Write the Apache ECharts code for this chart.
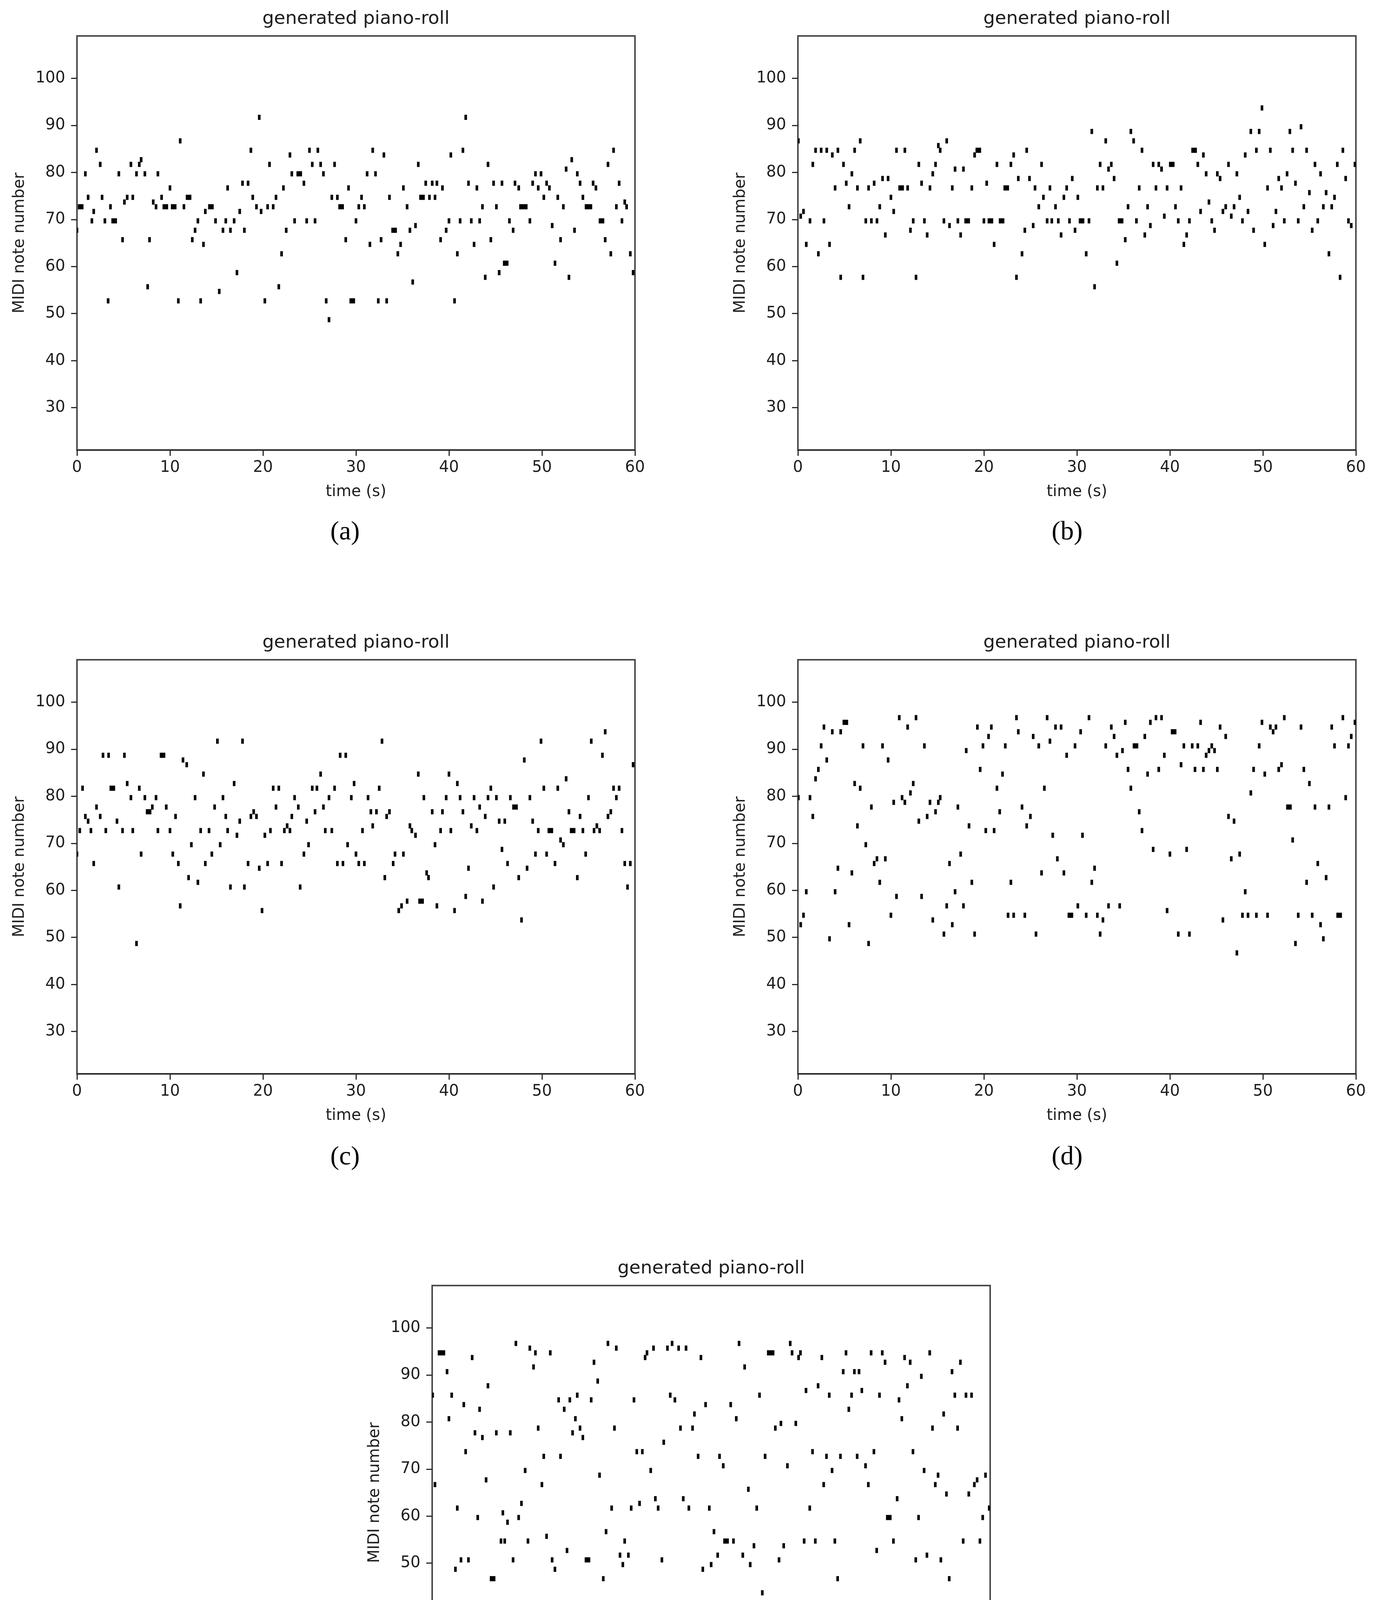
<!DOCTYPE html>
<html>
<head>
<meta charset="utf-8">
<script src="https://cdn.jsdelivr.net/npm/echarts@6/dist/echarts.min.js"></script>
<style>html,body{margin:0;padding:0;background:#fff;overflow:hidden}#c{width:3524px;height:4621px}</style>
</head>
<body>
<div id="c"></div>
<script>
// note data: [time (s), MIDI pitch, duration (s)]
var notesA = [[0,68,.28],[0.4,73,.6],[0.9,80,.28],[1.2,75,.28],[1.6,70,.28],[1.8,72,.28],[2.1,85,.28],[2.5,82,.28],[2.7,75,.28],[3.0,70,.28],[3.35,53,.28],[3.6,73,.28],[4.0,70,.6],[4.5,80,.28],[4.9,66,.28],[5.1,74,.28],[5.4,75,.28],[5.8,82,.28],[6.0,75,.28],[6.4,80,.28],[6.7,82,.28],[6.9,83,.28],[7.3,80,.28],[7.6,56,.28],[7.8,66,.28],[8.2,74,.28],[8.5,73,.28],[8.7,80,.28],[9.1,75,.28],[9.5,73,.6],[10.0,77,.28],[10.4,73,.6],[10.9,53,.28],[11.1,87,.28],[11.5,73,.28],[12.0,75,.6],[12.4,66,.28],[12.7,68,.28],[13.0,70,.28],[13.3,53,.28],[13.6,65,.28],[13.8,72,.28],[14.4,73,.6],[14.9,70,.28],[15.3,55,.28],[15.7,68,.28],[16.0,70,.28],[16.2,77,.28],[16.5,68,.28],[16.9,70,.28],[17.2,59,.28],[17.5,72,.28],[17.8,78,.28],[18.0,68,.28],[18.4,78,.28],[18.7,85,.28],[18.9,75,.28],[19.3,73,.28],[19.6,92,.28],[19.8,72,.28],[20.2,53,.28],[20.5,73,.28],[20.7,82,.28],[21.1,73,.28],[21.4,75,.28],[21.7,56,.28],[22.0,63,.28],[22.2,77,.28],[22.5,68,.28],[22.9,84,.28],[23.1,80,.28],[23.4,70,.28],[23.9,80,.6],[24.4,78,.28],[24.7,70,.28],[25.0,85,.28],[25.3,82,.28],[25.6,70,.28],[25.9,85,.28],[26.2,82,.28],[26.5,80,.28],[26.8,53,.28],[27.1,49,.28],[27.4,75,.28],[27.7,82,.28],[28.0,75,.28],[28.4,73,.6],[28.9,66,.28],[29.2,77,.28],[29.6,53,.6],[30.0,70,.28],[30.3,73,.28],[30.6,75,.28],[30.9,73,.28],[31.2,80,.28],[31.5,65,.28],[31.8,85,.28],[32.1,80,.28],[32.4,53,.28],[32.7,66,.28],[33.0,84,.28],[33.3,53,.28],[33.6,75,.28],[34.1,68,.6],[34.5,63,.28],[34.8,65,.28],[35.1,77,.28],[35.5,73,.28],[35.8,68,.28],[36.1,57,.28],[36.4,69,.28],[36.7,82,.28],[37.1,75,.6],[37.5,78,.28],[37.9,75,.28],[38.2,78,.28],[38.5,75,.28],[38.7,78,.28],[39.1,66,.28],[39.3,77,.28],[39.7,68,.28],[40.0,70,.28],[40.2,84,.28],[40.6,53,.28],[40.9,63,.28],[41.2,70,.28],[41.5,85,.28],[41.8,92,.28],[42.1,78,.28],[42.4,70,.28],[42.7,65,.28],[43.0,77,.28],[43.3,70,.28],[43.6,73,.28],[43.9,58,.28],[44.2,82,.28],[44.5,66,.28],[44.8,78,.28],[45.1,73,.28],[45.4,59,.28],[45.7,78,.28],[46.1,61,.6],[46.5,70,.28],[46.9,68,.28],[47.1,78,.28],[47.5,77,.28],[48.0,73,.9],[48.7,70,.28],[49.0,78,.28],[49.3,80,.28],[49.6,77,.28],[49.9,80,.28],[50.2,75,.28],[50.5,78,.28],[50.8,77,.28],[51.1,69,.28],[51.4,61,.28],[51.7,75,.28],[52.0,66,.28],[52.3,73,.28],[52.6,81,.28],[52.9,58,.28],[53.2,83,.28],[53.5,68,.28],[53.8,80,.28],[54.1,78,.28],[54.4,75,.28],[55.0,73,.8],[55.5,78,.28],[55.8,77,.28],[56.4,70,.6],[56.8,66,.28],[57.1,82,.28],[57.4,63,.28],[57.7,85,.28],[58.0,73,.28],[58.3,78,.28],[58.6,70,.28],[58.9,74,.28],[59.1,73,.28],[59.5,63,.28],[59.8,59,.28]];

var notesB = [[0.05,87,.28],[0.3,71,.28],[0.6,72,.28],[0.9,65,.28],[1.3,70,.28],[1.6,82,.28],[1.9,85,.28],[2.2,63,.28],[2.5,85,.28],[2.8,70,.28],[3.1,85,.28],[3.4,65,.28],[3.7,84,.28],[4.0,77,.28],[4.3,85,.28],[4.6,58,.28],[4.9,82,.28],[5.2,78,.28],[5.5,73,.28],[5.8,80,.28],[6.1,85,.28],[6.4,77,.28],[6.7,87,.28],[7.0,58,.28],[7.3,70,.28],[7.6,77,.28],[7.9,70,.28],[8.2,78,.28],[8.5,70,.28],[8.8,73,.28],[9.1,79,.28],[9.4,67,.28],[9.7,79,.28],[10.0,75,.28],[10.3,72,.28],[10.6,85,.28],[11.1,77,.6],[11.5,85,.28],[11.8,77,.28],[12.1,68,.28],[12.4,70,.28],[12.7,58,.28],[13.0,82,.28],[13.3,78,.28],[13.6,70,.28],[13.9,67,.28],[14.2,77,.28],[14.5,80,.28],[14.8,82,.28],[15.1,86,.28],[15.3,85,.28],[15.7,70,.28],[16.0,87,.28],[16.3,69,.28],[16.6,77,.28],[16.9,81,.28],[17.2,70,.28],[17.5,67,.28],[17.8,81,.28],[18.2,70,.6],[18.7,77,.28],[19.0,84,.28],[19.4,85,.6],[20.0,70,.28],[20.3,78,.28],[20.7,70,.6],[21.1,65,.28],[21.4,82,.28],[21.9,70,.6],[22.4,77,.6],[22.9,82,.28],[23.2,84,.28],[23.5,58,.28],[23.7,79,.28],[24.1,63,.28],[24.4,68,.28],[24.6,85,.28],[24.9,79,.28],[25.3,69,.28],[25.5,77,.28],[25.9,73,.28],[26.2,82,.28],[26.4,75,.28],[26.8,70,.28],[27.1,77,.28],[27.3,70,.28],[27.7,73,.28],[28.0,70,.28],[28.3,67,.28],[28.6,75,.28],[28.9,77,.28],[29.2,70,.28],[29.5,79,.28],[29.8,68,.28],[30.1,75,.28],[30.5,70,.6],[31.0,63,.28],[31.3,70,.28],[31.6,89,.28],[31.9,56,.28],[32.2,77,.28],[32.5,82,.28],[32.8,77,.28],[33.1,87,.28],[33.4,81,.28],[33.7,82,.28],[34.0,79,.28],[34.3,61,.28],[34.7,70,.6],[35.2,66,.28],[35.5,73,.28],[35.8,89,.28],[36.1,87,.28],[36.4,70,.28],[36.7,77,.28],[37.0,85,.28],[37.3,67,.28],[37.6,73,.28],[37.9,69,.28],[38.2,82,.28],[38.5,77,.28],[38.8,82,.28],[39.1,81,.28],[39.4,71,.28],[39.7,77,.28],[40.2,82,.6],[40.6,73,.28],[40.9,70,.28],[41.2,77,.28],[41.5,65,.28],[41.8,67,.28],[42.1,70,.28],[42.6,85,.6],[43.0,82,.28],[43.3,72,.28],[43.6,84,.28],[43.9,80,.28],[44.2,74,.28],[44.5,70,.28],[44.8,68,.28],[45.1,80,.28],[45.4,79,.28],[45.7,72,.28],[46.0,73,.28],[46.3,82,.28],[46.6,71,.28],[46.9,73,.28],[47.2,80,.28],[47.5,75,.28],[47.8,70,.28],[48.1,84,.28],[48.4,72,.28],[48.7,89,.28],[49.0,68,.28],[49.3,85,.28],[49.6,89,.28],[49.9,94,.28],[50.2,65,.28],[50.5,77,.28],[50.8,85,.28],[51.1,69,.28],[51.4,72,.28],[51.7,79,.28],[52.0,77,.28],[52.3,70,.28],[52.6,80,.28],[52.9,89,.28],[53.2,85,.28],[53.5,78,.28],[53.8,70,.28],[54.1,90,.28],[54.4,73,.28],[54.7,85,.28],[55.0,76,.28],[55.3,68,.28],[55.6,82,.28],[55.9,70,.28],[56.2,80,.28],[56.5,73,.28],[56.8,76,.28],[57.1,63,.28],[57.4,73,.28],[57.7,75,.28],[58.0,82,.28],[58.3,58,.28],[58.6,85,.28],[58.9,79,.28],[59.2,70,.28],[59.5,69,.28],[59.9,82,.28]];

var notesC = [[0,68,.28],[0.3,73,.28],[0.6,82,.28],[0.9,76,.28],[1.2,75,.28],[1.5,73,.28],[1.8,66,.28],[2.1,78,.28],[2.5,76,.28],[2.8,89,.28],[3.1,73,.28],[3.4,89,.28],[3.8,82,.6],[4.3,75,.28],[4.5,61,.28],[4.9,73,.28],[5.1,89,.28],[5.4,83,.28],[5.8,80,.28],[6.0,73,.28],[6.4,49,.28],[6.7,82,.28],[6.9,68,.28],[7.3,80,.28],[7.7,77,.6],[8.1,78,.28],[8.5,80,.28],[8.7,73,.28],[9.2,89,.6],[9.6,78,.28],[10.0,73,.28],[10.3,68,.28],[10.6,76,.28],[10.9,66,.28],[11.1,57,.28],[11.4,88,.28],[11.8,87,.28],[12.0,63,.28],[12.3,70,.28],[12.7,80,.28],[13.0,62,.28],[13.3,73,.28],[13.6,85,.28],[13.8,66,.28],[14.2,73,.28],[14.5,68,.28],[14.8,78,.28],[15.1,92,.28],[15.4,70,.28],[15.7,80,.28],[16.0,76,.28],[16.2,73,.28],[16.5,61,.28],[16.9,83,.28],[17.2,72,.28],[17.5,75,.28],[17.8,92,.28],[18.0,61,.28],[18.4,66,.28],[18.7,76,.28],[19.0,77,.28],[19.3,76,.28],[19.6,65,.28],[19.9,56,.28],[20.2,72,.28],[20.5,66,.28],[20.8,73,.28],[21.1,82,.28],[21.4,78,.28],[21.7,82,.28],[22.0,66,.28],[22.3,73,.28],[22.6,74,.28],[22.9,73,.28],[23.1,76,.28],[23.4,80,.28],[23.8,78,.28],[24.0,61,.28],[24.4,68,.28],[24.7,75,.28],[24.9,70,.28],[25.3,82,.28],[25.6,77,.28],[25.8,82,.28],[26.2,85,.28],[26.5,78,.28],[26.7,73,.28],[27.1,80,.28],[27.4,73,.28],[27.7,82,.28],[28.0,66,.28],[28.3,89,.28],[28.6,66,.28],[28.9,89,.28],[29.1,70,.28],[29.5,80,.28],[29.8,83,.28],[30.0,68,.28],[30.3,66,.28],[30.7,73,.28],[30.9,66,.28],[31.3,80,.28],[31.6,77,.28],[31.8,74,.28],[32.2,77,.28],[32.5,82,.28],[32.8,92,.28],[33.1,63,.28],[33.3,76,.28],[33.6,77,.28],[34.0,66,.28],[34.2,68,.28],[34.6,56,.28],[34.9,57,.28],[35.1,68,.28],[35.5,58,.28],[35.8,74,.28],[36.0,73,.28],[36.4,72,.28],[36.7,85,.28],[37.0,58,.6],[37.3,80,.28],[37.6,64,.28],[37.8,63,.28],[38.2,77,.28],[38.5,70,.28],[38.7,57,.28],[39.1,73,.28],[39.3,77,.28],[39.7,80,.28],[40.0,85,.28],[40.2,73,.28],[40.6,56,.28],[40.9,83,.28],[41.2,80,.28],[41.5,77,.28],[41.8,59,.28],[42.1,65,.28],[42.4,74,.28],[42.7,80,.28],[43.0,73,.28],[43.3,78,.28],[43.6,58,.28],[43.9,76,.28],[44.2,80,.28],[44.5,82,.28],[44.8,61,.28],[45.1,80,.28],[45.4,75,.28],[45.7,69,.28],[46.0,75,.28],[46.3,66,.28],[46.6,80,.28],[47.1,78,.6],[47.5,63,.28],[47.8,54,.28],[48.1,88,.28],[48.4,65,.28],[48.7,80,.28],[49.0,75,.28],[49.3,68,.28],[49.6,73,.28],[49.9,92,.28],[50.2,82,.28],[50.5,68,.28],[50.9,73,.6],[51.4,66,.28],[51.7,82,.28],[52.0,71,.28],[52.3,70,.28],[52.6,84,.28],[52.9,77,.28],[53.3,73,.6],[53.8,63,.28],[54.1,76,.28],[54.4,73,.28],[54.7,68,.28],[55.0,80,.28],[55.3,92,.28],[55.6,73,.28],[55.9,74,.28],[56.2,73,.28],[56.5,89,.28],[56.8,94,.28],[57.1,76,.28],[57.4,77,.28],[57.7,82,.28],[58.0,80,.28],[58.3,82,.28],[58.6,73,.28],[58.9,66,.28],[59.2,61,.28],[59.5,66,.28],[59.8,87,.28]];

var notesD = [[0.05,80,.28],[0.3,53,.28],[0.6,55,.28],[0.9,60,.28],[1.3,80,.28],[1.6,76,.28],[1.9,84,.28],[2.2,86,.28],[2.5,91,.28],[2.8,95,.28],[3.1,88,.28],[3.4,50,.28],[3.7,94,.28],[4.0,60,.28],[4.3,65,.28],[4.6,94,.28],[5.1,96,.6],[5.5,53,.28],[5.8,64,.28],[6.1,83,.28],[6.4,74,.28],[6.7,82,.28],[7.0,91,.28],[7.3,70,.28],[7.6,49,.28],[7.9,78,.28],[8.2,66,.28],[8.5,67,.28],[8.8,62,.28],[9.1,91,.28],[9.4,67,.28],[9.7,88,.28],[10.0,55,.28],[10.3,79,.28],[10.6,59,.28],[10.9,97,.28],[11.2,80,.28],[11.5,79,.28],[11.8,95,.28],[12.1,81,.28],[12.4,83,.28],[12.7,97,.28],[13.0,75,.28],[13.3,59,.28],[13.6,91,.28],[13.9,76,.28],[14.2,79,.28],[14.5,54,.28],[14.8,77,.28],[15.1,79,.28],[15.3,80,.28],[15.7,51,.28],[16.0,57,.28],[16.3,66,.28],[16.6,53,.28],[16.9,60,.28],[17.2,78,.28],[17.5,68,.28],[17.8,57,.28],[18.1,90,.28],[18.4,74,.28],[18.7,62,.28],[19.0,51,.28],[19.3,95,.28],[19.6,86,.28],[19.9,91,.28],[20.2,73,.28],[20.5,93,.28],[20.8,95,.28],[21.1,73,.28],[21.4,82,.28],[21.7,77,.28],[22.0,85,.28],[22.3,91,.28],[22.6,55,.28],[22.9,62,.28],[23.2,55,.28],[23.5,97,.28],[23.7,94,.28],[24.1,78,.28],[24.4,55,.28],[24.6,74,.28],[25.0,76,.28],[25.3,93,.28],[25.6,51,.28],[25.9,91,.28],[26.2,64,.28],[26.5,82,.28],[26.8,97,.28],[27.1,92,.28],[27.4,72,.28],[27.7,95,.28],[27.9,67,.28],[28.3,95,.28],[28.6,64,.28],[28.9,89,.28],[29.3,55,.6],[29.8,91,.28],[30.1,57,.28],[30.4,94,.28],[30.6,72,.28],[31.0,55,.28],[31.3,97,.28],[31.6,62,.28],[31.9,65,.28],[32.2,55,.28],[32.5,51,.28],[32.8,54,.28],[33.1,91,.28],[33.4,57,.28],[33.7,95,.28],[34.0,93,.28],[34.3,89,.28],[34.6,57,.28],[34.9,90,.28],[35.2,96,.28],[35.5,86,.28],[35.8,82,.28],[36.3,91,.6],[36.7,77,.28],[37.0,73,.28],[37.3,93,.28],[37.6,85,.28],[37.9,96,.28],[38.2,69,.28],[38.5,97,.28],[38.8,86,.28],[39.1,97,.28],[39.4,89,.28],[39.7,56,.28],[40.0,68,.28],[40.4,94,.6],[40.9,51,.28],[41.2,87,.28],[41.5,91,.28],[41.8,69,.28],[42.1,51,.28],[42.4,91,.28],[42.7,86,.28],[43.0,91,.28],[43.3,96,.28],[43.6,86,.28],[43.9,89,.28],[44.2,90,.28],[44.5,91,.28],[44.8,90,.28],[45.1,86,.28],[45.4,95,.28],[45.7,54,.28],[46.0,93,.28],[46.3,76,.28],[46.6,67,.28],[46.9,75,.28],[47.2,47,.28],[47.5,68,.28],[47.8,55,.28],[48.1,60,.28],[48.4,55,.28],[48.7,81,.28],[49.0,86,.28],[49.3,55,.28],[49.6,91,.28],[49.9,96,.28],[50.2,85,.28],[50.5,55,.28],[50.8,95,.28],[51.1,94,.28],[51.4,95,.28],[51.7,86,.28],[52.0,87,.28],[52.3,97,.28],[52.8,78,.6],[53.2,71,.28],[53.5,49,.28],[53.8,55,.28],[54.1,95,.28],[54.4,86,.28],[54.7,62,.28],[55.0,83,.28],[55.3,55,.28],[55.6,78,.28],[55.9,66,.28],[56.2,53,.28],[56.5,50,.28],[56.8,63,.28],[57.1,78,.28],[57.4,95,.28],[57.7,91,.28],[58.2,55,.6],[58.6,97,.28],[58.9,80,.28],[59.2,91,.28],[59.5,93,.28],[59.9,96,.28]];

var notesE = [[0.05,86,.28],[0.3,67,.28],[1.0,95,.8],[1.6,91,.28],[1.8,81,.28],[2.1,86,.28],[2.5,49,.28],[2.7,62,.28],[3.1,51,.28],[3.4,84,.28],[3.6,74,.28],[3.9,51,.28],[4.3,94,.28],[4.6,78,.28],[4.9,60,.28],[5.1,83,.28],[5.4,77,.28],[5.8,68,.28],[6.0,88,.28],[6.5,47,.6],[6.9,78,.28],[7.4,55,.28],[7.6,61,.28],[7.8,55,.28],[8.1,59,.28],[8.4,78,.28],[8.7,51,.28],[9.0,97,.28],[9.3,60,.28],[9.6,63,.28],[10.0,70,.28],[10.3,55,.28],[10.5,96,.28],[10.9,92,.28],[11.1,95,.28],[11.4,79,.28],[11.8,67,.28],[12.0,73,.28],[12.3,56,.28],[12.7,95,.28],[12.9,51,.28],[13.2,49,.28],[13.6,85,.28],[13.8,73,.28],[14.2,83,.28],[14.5,53,.28],[14.8,85,.28],[15.1,78,.28],[15.4,81,.28],[15.6,86,.28],[15.9,79,.28],[16.2,77,.28],[16.7,51,.6],[17.1,85,.28],[17.4,93,.28],[17.8,89,.28],[18.0,69,.28],[18.4,47,.28],[18.7,57,.28],[18.9,97,.28],[19.3,62,.28],[19.6,79,.28],[19.8,96,.28],[20.2,52,.28],[20.5,50,.28],[20.7,55,.28],[21.1,52,.28],[21.4,62,.28],[21.7,85,.28],[22.0,74,.28],[22.3,63,.28],[22.6,74,.28],[22.9,94,.28],[23.1,95,.28],[23.5,70,.28],[23.8,96,.28],[24.0,64,.28],[24.3,62,.28],[24.7,51,.28],[24.9,76,.28],[25.3,96,.28],[25.6,86,.28],[25.8,97,.28],[26.1,85,.28],[26.5,96,.28],[26.7,79,.28],[27.0,64,.28],[27.3,96,.28],[27.6,62,.28],[28.0,79,.28],[28.2,82,.28],[28.6,73,.28],[28.9,94,.28],[29.1,49,.28],[29.4,84,.28],[29.8,62,.28],[30.0,50,.28],[30.3,57,.28],[30.7,52,.28],[30.9,73,.28],[31.3,71,.28],[31.6,55,.6],[32.1,84,.28],[32.4,55,.28],[32.7,81,.28],[33.0,97,.28],[33.4,52,.28],[33.6,92,.28],[34.0,66,.28],[34.2,50,.28],[34.6,54,.28],[34.9,62,.28],[35.2,86,.28],[35.5,44,.28],[35.8,73,.28],[36.4,95,.8],[36.9,79,.28],[37.3,51,.28],[37.5,80,.28],[37.8,54,.28],[38.2,71,.28],[38.5,97,.28],[38.7,95,.28],[39.1,80,.28],[39.4,94,.28],[39.6,95,.28],[40.0,55,.28],[40.2,87,.28],[40.6,62,.28],[40.9,74,.28],[41.2,55,.28],[41.5,88,.28],[41.9,94,.28],[42.1,67,.28],[42.4,73,.28],[42.7,86,.28],[43.0,70,.28],[43.3,55,.28],[43.6,47,.28],[43.9,73,.28],[44.2,91,.28],[44.5,95,.28],[44.8,83,.28],[45.1,86,.28],[45.4,91,.28],[45.7,73,.28],[45.9,91,.28],[46.2,87,.28],[46.6,71,.28],[46.9,67,.28],[47.2,95,.28],[47.5,74,.28],[47.8,53,.28],[48.1,86,.28],[48.4,95,.28],[48.7,93,.28],[49.1,60,.6],[49.6,55,.28],[50.0,64,.28],[50.2,85,.28],[50.5,81,.28],[50.8,94,.28],[51.1,88,.28],[51.4,93,.28],[51.7,74,.28],[52.0,51,.28],[52.3,60,.28],[52.6,90,.28],[52.9,70,.28],[53.2,52,.28],[53.5,95,.28],[53.8,79,.28],[54.1,67,.28],[54.4,69,.28],[54.7,51,.28],[55.0,82,.28],[55.3,65,.28],[55.6,47,.28],[55.9,91,.28],[56.2,86,.28],[56.5,79,.28],[56.8,93,.28],[57.1,55,.28],[57.4,86,.28],[57.7,65,.28],[58.0,86,.28],[58.3,67,.28],[58.6,68,.28],[58.9,55,.28],[59.2,60,.28],[59.5,69,.28],[59.9,62,.28]];

var panelNotes = [notesA, notesB, notesC, notesD, notesE];
var captions = ['(a)', '(b)', '(c)', '(d)', '(e)'];
var titleText = 'generated piano-roll';
var xName = 'time (s)';
var yName = 'MIDI note number';
var yTicks = [30, 40, 50, 60, 70, 80, 90, 100];
var timeRange = [0, 60];
var pitchRange = [21, 109];

// layout (pixels)
var W = 1428, H = 1060;
var boxes = [
  {left: 197, top: 92},
  {left: 2042, top: 92},
  {left: 197, top: 1689},
  {left: 2042, top: 1689},
  {left: 1106, top: 3291}
];
var capPos = [[883, 1363], [2731, 1363], [883, 2963], [2731, 2963], [1794, 4556]];

var FONT = 'DejaVu Sans';
var TXT = '#1e1e1e';

var grids = [], xAxes = [], yAxes = [], series = [], graphics = [];
boxes.forEach(function (b, i) {
  grids.push({left: b.left, top: b.top, width: W, height: H, show: true,
    borderColor: '#4a4a4a', borderWidth: 4, backgroundColor: '#fff', containLabel: false});
  xAxes.push({type: 'value', gridIndex: i, min: timeRange[0], max: timeRange[1], interval: 10,
    name: xName, nameLocation: 'middle', nameGap: 88,
    nameTextStyle: {fontFamily: FONT, fontSize: 40, color: TXT},
    axisLine: {show: true, onZero: false, lineStyle: {color: '#222', width: 3}},
    axisTick: {show: true, inside: false, length: 15, lineStyle: {color: '#2a2a2a', width: 3}},
    axisLabel: {fontFamily: FONT, fontSize: 40, color: TXT, margin: 26},
    splitLine: {show: false}});
  yAxes.push({type: 'value', gridIndex: i, min: pitchRange[0], max: pitchRange[1],
    name: yName, nameLocation: 'middle', nameGap: 126, nameRotate: 90,
    nameTextStyle: {fontFamily: FONT, fontSize: 40, color: TXT},
    axisLine: {show: true, onZero: false, lineStyle: {color: '#4a4a4a', width: 4}},
    axisTick: {show: true, inside: false, length: 15, customValues: yTicks, lineStyle: {color: '#2a2a2a', width: 3}},
    axisLabel: {fontFamily: FONT, fontSize: 40, color: TXT, margin: 30, customValues: yTicks},
    splitLine: {show: false}});
  series.push({type: 'custom', xAxisIndex: i, yAxisIndex: i, data: panelNotes[i],
    encode: {x: 0, y: 1}, silent: true, clip: true,
    renderItem: function (params, api) {
      var t = api.value(0), p = api.value(1), d = api.value(2);
      var a = api.coord([t - d / 2, p + 0.25]);
      var b2 = api.coord([t + d / 2, p - 0.85]);
      var rect = echarts.graphic.clipRectByRect(
        {x: a[0], y: a[1], width: b2[0] - a[0], height: b2[1] - a[1]},
        {x: params.coordSys.x, y: params.coordSys.y, width: params.coordSys.width, height: params.coordSys.height});
      return rect && {type: 'rect', shape: rect, style: {fill: '#000'}};
    }});
  graphics.push({type: 'text', x: b.left + W / 2, y: b.top - 43,
    style: {text: titleText, font: '47px "DejaVu Sans"', fill: TXT, textAlign: 'center', textVerticalAlign: 'middle'}});
  graphics.push({type: 'text', x: capPos[i][0], y: capPos[i][1],
    style: {text: captions[i], font: '68px "Liberation Serif"', fill: '#000', textAlign: 'center', textVerticalAlign: 'middle'}});
});

var chart = echarts.init(document.getElementById('c'), null, {renderer: 'canvas', width: 3524, height: 4621});
chart.setOption({
  backgroundColor: '#ffffff',
  animation: false,
  grid: grids,
  xAxis: xAxes,
  yAxis: yAxes,
  series: series,
  graphic: graphics
});
</script>
</body>
</html>
